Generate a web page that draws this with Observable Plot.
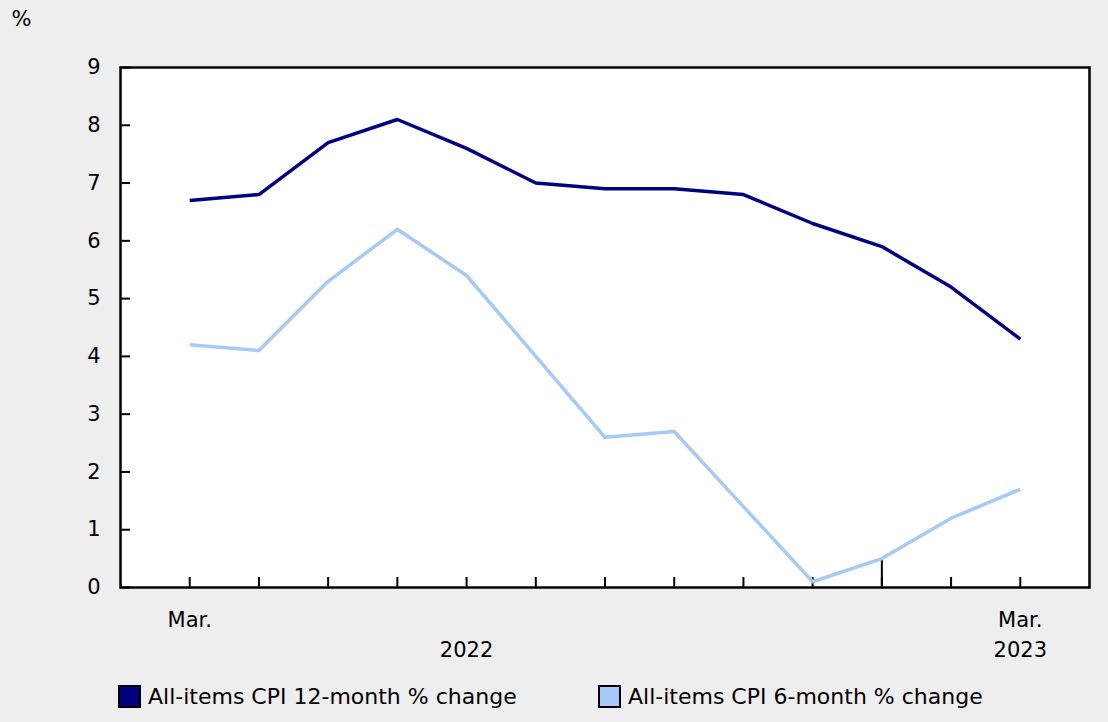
<!DOCTYPE html>
<html><head><meta charset="utf-8">
<script src="https://cdn.jsdelivr.net/npm/d3@7"></script>
<script src="https://cdn.jsdelivr.net/npm/@observablehq/plot@0.6"></script>
<style>
html,body{margin:0;padding:0;background:#eeeeee;}
body{width:1108px;height:722px;overflow:hidden;font-family:"DejaVu Sans",Verdana,sans-serif;}
#chart svg{display:block;}
#legend{position:relative;height:52px;font-size:22px;color:#000;}
.item{position:absolute;top:0;height:52px;display:flex;align-items:center;white-space:nowrap;}
.sw{width:19px;height:19px;border:2px solid #000;margin-right:7px;}
</style></head><body>
<div id="chart"></div>
<div id="legend"></div>
<script>
const months = ["2022-03","2022-04","2022-05","2022-06","2022-07","2022-08","2022-09","2022-10","2022-11","2022-12","2023-01","2023-02","2023-03"];
const cpi12 = [6.7, 6.8, 7.7, 8.1, 7.6, 7.0, 6.9, 6.9, 6.8, 6.3, 5.9, 5.2, 4.3];
const cpi6  = [4.2, 4.1, 5.3, 6.2, 5.4, 4.0, 2.6, 2.7, 1.4, 0.1, 0.5, 1.2, 1.7];
const seriesNames = ["All-items CPI 12-month % change", "All-items CPI 6-month % change"];
const seriesColors = ["#000080", "#a6c9f7"];
const yTicks = [0,1,2,3,4,5,6,7,8,9];
const monthTickLabels = [{month:"2022-03", label:"Mar."}, {month:"2023-03", label:"Mar."}];
const yearTickLabels = [{month:"2022-07", label:"2022"}, {month:"2023-03", label:"2023"}];
const yearBoundary = ["2023-01"];
const yUnit = "%";

const rows = [];
months.forEach((m, i) => {
  rows.push({month: m, value: cpi12[i], series: seriesNames[0]});
  rows.push({month: m, value: cpi6[i], series: seriesNames[1]});
});

const FONT = '"DejaVu Sans", Verdana, sans-serif';
const FS = 21;

const chart = Plot.plot({
  width: 1108,
  height: 670,
  marginLeft: 120,
  marginRight: 19,
  marginTop: 67,
  marginBottom: 83,
  style: {background: "#eeeeee", fontFamily: FONT, fontSize: FS + "px", color: "#000", overflow: "visible"},
  x: {type: "point", domain: months, padding: 1, round: false, axis: null},
  y: {domain: [0, 9], axis: null},
  color: {domain: seriesNames, range: seriesColors},
  marks: [
    Plot.frame({fill: "white", stroke: "none"}),
    Plot.axisY({ticks: yTicks, tickSize: -10, text: null, label: null, strokeWidth: 2}),
    Plot.axisY({ticks: yTicks, tickSize: 0, tickPadding: 20, label: null, fontSize: FS, tickFormat: d => String(d)}),
    Plot.axisX({ticks: months, tickSize: -10, text: null, label: null, strokeWidth: 2}),
    Plot.axisX({ticks: yearBoundary, tickSize: -28, text: null, label: null, strokeWidth: 2}),
    Plot.line(rows, {x: "month", y: "value", z: "series", stroke: "series", strokeWidth: 3.5, strokeLinejoin: "round", strokeLinecap: "butt"}),
    Plot.frame({stroke: "#000", strokeWidth: 2.5}),
    Plot.text(monthTickLabels, {x: "month", text: "label", frameAnchor: "bottom", dy: 33, fontSize: FS, lineAnchor: "middle"}),
    Plot.text(yearTickLabels, {x: "month", text: "label", frameAnchor: "bottom", dy: 63, fontSize: FS, lineAnchor: "middle"}),
    Plot.text([yUnit], {text: d => d, frameAnchor: "top-left", dx: -109, dy: -48, textAnchor: "start", fontSize: FS, lineAnchor: "middle"})
  ]
});
document.getElementById("chart").appendChild(chart);

const legend = document.getElementById("legend");
const legendLeft = [118, 598];
seriesNames.forEach((name, i) => {
  const item = document.createElement("div");
  item.className = "item";
  item.style.left = legendLeft[i] + "px";
  const sw = document.createElement("span");
  sw.className = "sw";
  sw.style.background = seriesColors[i];
  const label = document.createElement("span");
  label.textContent = name;
  item.appendChild(sw);
  item.appendChild(label);
  legend.appendChild(item);
});
</script>
</body></html>
